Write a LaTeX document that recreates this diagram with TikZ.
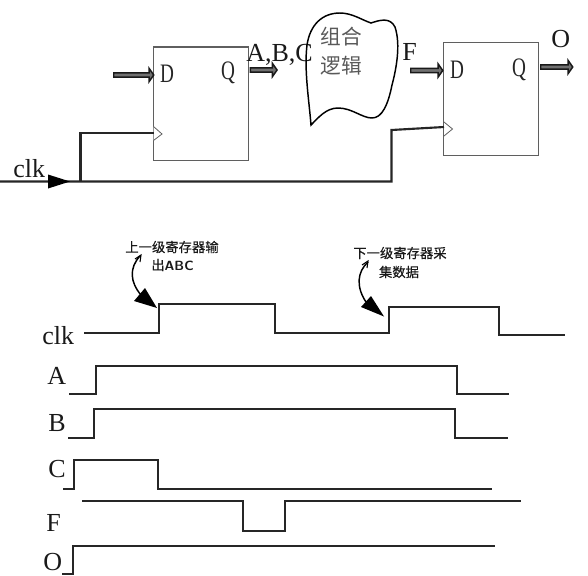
\documentclass[tikz,border=0pt]{standalone}
\usepackage{fontspec}
\usepackage{graphicx}
\setmainfont{Liberation Serif}
\newfontfamily\cjkfont{Noto Sans CJK SC}
\newfontfamily\cjkbold[FakeBold=0.25]{Noto Sans CJK SC}
\usetikzlibrary{shapes.arrows}
\definecolor{linecol}{HTML}{262626}
\definecolor{boxcol}{HTML}{5F5F5F}
\definecolor{fillcol}{HTML}{707070}
\tikzset{
  wire/.style={draw=linecol,line width=1.6pt,line join=miter},
  wave/.style={draw=linecol,line width=1.5pt,line join=miter},
  ffbox/.style={draw=boxcol,line width=.8pt,minimum width=70.9pt,minimum height=84.8pt,inner sep=0pt},
  clktri/.style={draw=boxcol,line width=.6pt,fill=white},
  blockarrow/.style={single arrow,draw=black!90,fill=fillcol,line width=1.1pt,inner sep=0pt,
     minimum width=10pt,single arrow head extend=1.2pt,single arrow tip angle=110,single arrow head indent=0pt},
  lbl/.style={inner sep=0pt,anchor=base west,font=\fontsize{19.5pt}{20pt}\selectfont,text=black!90},
  pinlbl/.style={inner sep=0pt,anchor=center,font=\fontsize{20pt}{20pt}\selectfont,text=black!85},
  cjklogic/.style={inner sep=0pt,anchor=center,font=\fontsize{15.5pt}{16pt}\selectfont\cjkfont,text=black!65},
  cjknote/.style={inner sep=0pt,anchor=center,font=\fontsize{10pt}{11pt}\selectfont\cjkbold,text=black!90},
}
\newcommand{\narrowtxt}[1]{\scalebox{0.72}[1]{#1}}
\begin{document}
\begin{tikzpicture}[x=0.75pt,y=-0.75pt]
\useasboundingbox (0,0) rectangle (588,575);
% flip-flops
\node[ffbox] (ff1) at (200.8,103.5) {};
\node[ffbox] (ff2) at (491,98.8) {};
\node[pinlbl] (d1) at (167,74) {\narrowtxt{D}};
\node[pinlbl] (q1) at (228,73) {\narrowtxt{Q}};
\node[pinlbl] (d2) at (457,70) {\narrowtxt{D}};
\node[pinlbl] (q2) at (519,70) {\narrowtxt{Q}};
\draw[clktri] (153.5,126.5) -- (162,134) -- (153.5,140.5);
\draw[clktri] (444,122) -- (452.5,129) -- (444,136);
% block arrows
\node[blockarrow,minimum height=30pt] (ain) at (133,75) {};
\node[blockarrow,minimum height=20pt] (qout1) at (263,70) {};
\node[blockarrow,minimum height=24pt] (fin) at (426,70.5) {};
\node[blockarrow,minimum height=24pt] (qout2) at (556,67) {};
% clock wiring
\coordinate (clkstart) at (0,181.5);
\coordinate (clkbranch) at (80.5,181.5);
\coordinate (clkend) at (391.5,181.5);
\coordinate (ck1) at (153.5,132.7);
\coordinate (ck2) at (444,127);
\draw[wire] (clkstart) -- (clkend) -- (391.5,130) -- (ck2);
\draw[wire] (clkbranch) -- (80.5,132.7) -- (ck1);
\fill[black] (48,174.5) -- (70,181.5) -- (48,188.5) -- cycle;
% labels upper
\node[lbl] (lclk) at (13,177) {clk};
\node[lbl] (labc) at (246,61) {A,B,C};
\node[lbl] (lf) at (402,60) {F};
\node[lbl] (lo) at (551,47) {O};
% cloud
\draw[draw=black,line width=1.1pt,fill=none] (311,125)
  .. controls (309,100) and (304,70) .. (307,45)
  .. controls (310,25) and (322,13) .. (340,13)
  .. controls (352,13) and (362,20) .. (371,23)
  .. controls (380,20) and (390,17) .. (395,27)
  .. controls (401,45) and (396,70) .. (392,85)
  .. controls (388,105) and (382,118) .. (372,118)
  .. controls (362,118) and (352,108) .. (338,108)
  .. controls (326,108) and (318,118) .. (311,125) -- cycle;
\node[cjklogic] (zuhe) at (341,37) {组合};
\node[cjklogic] (luoji) at (341,66) {逻辑};
% annotations
\node[cjknote] (n1a) at (172,247) {上一级寄存器输};
\node[cjknote] (n1b) at (172.5,265) {出\textsf{\bfseries ABC}};
\node[cjknote] (n2a) at (400,253) {下一级寄存器采};
\node[cjknote] (n2b) at (399,272) {集数据};
\draw[draw=black,line width=1.1pt] (140,256) .. controls (129,268) and (130,282) .. (141,295);
\draw[draw=black,line width=.8pt] (135,259) -- (141,255) -- (140,262);
\fill[black] (157,308) -- (134,301) -- (145,288) -- cycle;
\draw[draw=black,line width=1.1pt] (368,262) .. controls (357,272) and (356,287) .. (366,302);
\draw[draw=black,line width=.8pt] (362,265) -- (368,261) -- (367,268);
\fill[black] (384,316.5) -- (361,307) -- (371,296) -- cycle;
% timing labels
\node[lbl] (tclk) at (42,344) {clk};
\node[lbl] (ta) at (47,384) {A};
\node[lbl] (tb) at (48,431) {B};
\node[lbl] (tc) at (48,477) {C};
\node[lbl] (tf) at (46,531) {F};
\node[lbl] (to) at (43,570.5) {O};
% waveforms
\draw[wave] (84,332.5) -- (159,332.5) -- (159,303.5) -- (274.5,303.5) -- (274.5,332.5) -- (389,332.5) -- (389,306.5) -- (498.5,306.5) -- (498.5,335) -- (565,335);
\draw[wave] (69,394) -- (95.5,394) -- (95.5,365.5) -- (457,365.5) -- (457,394) -- (509,394);
\draw[wave] (68,437.5) -- (94,437.5) -- (94,408.5) -- (455,408.5) -- (455,437.5) -- (508,437.5);
\draw[wave] (63,488.5) -- (74,488.5) -- (74,459.5) -- (158,459.5) -- (158,488.5) -- (492,488.5);
\draw[wave] (82,501) -- (243,501) -- (243,530.5) -- (285,530.5) -- (285,501) -- (521,501);
\draw[wave] (62,574) -- (73,574) -- (73,546) -- (495,546);
\end{tikzpicture}
\end{document}
